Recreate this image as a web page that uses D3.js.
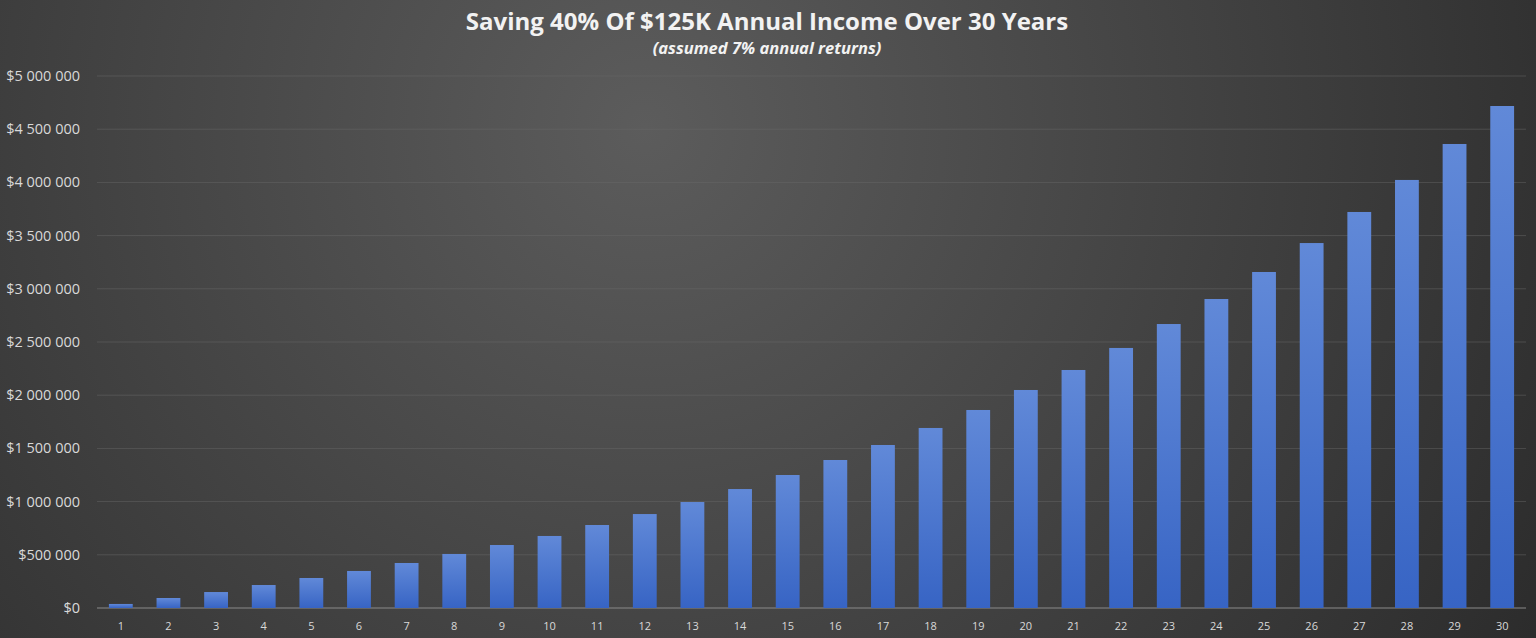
<!DOCTYPE html>
<html><head><meta charset="utf-8">
<script src="https://cdn.jsdelivr.net/npm/d3@7"></script>
<style>html,body{margin:0;padding:0;background:#333;}</style>
</head><body>
<svg id="c" width="1536" height="638"></svg>
<script>
const years = d3.range(1, 31).map(String);
const balances = [38000,94000,150000,216000,282000,348000,423000,508000,592000,677000,
  780000,883000,996000,1118000,1250000,1391000,1532000,1692000,1861000,2049000,
  2237000,2444000,2669000,2904000,3158000,3430000,3722000,4023000,4361000,4718000];
const yTicks = [0,500000,1000000,1500000,2000000,2500000,3000000,3500000,4000000,4500000,5000000];
const title = "Saving 40% Of $125K Annual Income Over 30 Years";
const subtitle = "(assumed 7% annual returns)";

const W=1536,H=638;
const svg=d3.select("#c");
const defs=svg.append("defs");
const bg=defs.append("radialGradient").attr("id","bg").attr("cx","0.42").attr("cy","0.2").attr("r","0.75")
  .attr("gradientTransform","translate(0.42,0.2) scale(1,2.4) translate(-0.42,-0.2)");
bg.append("stop").attr("offset","0").attr("stop-color","#5c5c5c");
bg.append("stop").attr("offset","1").attr("stop-color","#262626");
const bar=defs.append("linearGradient").attr("id","bar").attr("x1",0).attr("y1",0).attr("x2",0).attr("y2",1);
bar.append("stop").attr("offset","0").attr("stop-color","#6189d8");
bar.append("stop").attr("offset","1").attr("stop-color","#3764c4");
svg.append("rect").attr("width",W).attr("height",H).attr("fill","url(#bg)");

const x=d3.scaleBand().domain(years).range([97,1526]).paddingInner(0.5).paddingOuter(0.25);
const y=d3.scaleLinear().domain([0,5000000]).range([608,76]);
const fmt=v=>"$"+d3.format(",")(v).replace(/,/g," ");

svg.append("g").selectAll("line").data(yTicks.slice(1)).join("line")
  .attr("x1",97).attr("x2",1526).attr("y1",d=>y(d)).attr("y2",d=>y(d))
  .attr("stroke","#6a6a6a").attr("stroke-width",0.8).attr("opacity",0.6);
svg.append("line").attr("x1",97).attr("x2",1526).attr("y1",y(0)).attr("y2",y(0)).attr("stroke","#8a8a8a");

svg.append("g").selectAll("rect").data(balances).join("rect")
  .attr("x",(d,i)=>x(years[i])).attr("width",x.bandwidth())
  .attr("y",d=>y(d)).attr("height",d=>y(0)-y(d)).attr("fill","url(#bar)");

svg.append("g").selectAll("text").data(yTicks).join("text")
  .attr("x",80).attr("y",d=>y(d)+5).attr("text-anchor","end")
  .attr("font-family","Open Sans, sans-serif").attr("font-size",14.5).attr("fill","#d9d9d9").text(fmt);
svg.append("g").selectAll("text").data(years).join("text")
  .attr("x",d=>x(d)+x.bandwidth()/2).attr("y",630).attr("text-anchor","middle")
  .attr("font-family","Open Sans, sans-serif").attr("font-size",11).attr("fill","#d9d9d9").text(d=>d);

svg.append("text").attr("x",767).attr("y",30).attr("text-anchor","middle")
  .attr("font-family","Open Sans, sans-serif").attr("font-weight","bold").attr("font-size",24)
  .attr("fill","#f2f2f2").text(title);
svg.append("text").attr("x",767).attr("y",54).attr("text-anchor","middle")
  .attr("font-family","Open Sans, sans-serif").attr("font-weight","bold").attr("font-style","italic").attr("font-size",16.5)
  .attr("fill","#f2f2f2").text(subtitle);
</script>
</body></html>
